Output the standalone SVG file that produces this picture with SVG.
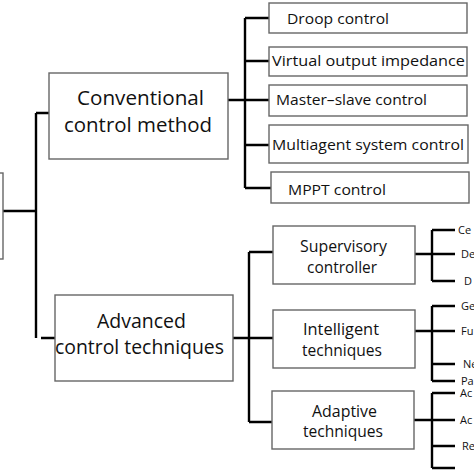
<svg xmlns="http://www.w3.org/2000/svg" width="474" height="474" viewBox="0 0 474 474">
<style>
.box{fill:#fff;stroke:#666;stroke-width:1.4}
.ln{fill:none;stroke:#000;stroke-width:2.4;stroke-linecap:butt}
text{font-family:"Open Sans","Liberation Sans",sans-serif;fill:#111}
.big{font-size:20px}
.mid{font-size:17px}
.sm{font-size:15px}
.xs{font-size:11px}
</style>
<rect width="474" height="474" fill="#fff"/>
<g id="connectors">
<path class="ln" d="M3,211 H36 M36,113 V338 M36,113 H49 M41,338 H55"/>
<path class="ln" d="M228,100 H245 M245,18 V188 M245,18 H269 M245,61 H269 M245,100 H269 M245,145 H269 M245,188 H271"/>
<path class="ln" d="M233,338 H249 M249,252 V422 M249,252 H273 M249,338 H273 M249,422 H272"/>
<path class="ln" d="M415,254 H432 M432,230 V281 M432,230 H455 M432,254 H455 M432,281 H455"/>
<path class="ln" d="M415,331 H432 M432,306 V381 M432,306 H455 M432,331 H455 M432,364 H455 M432,381 H455"/>
<path class="ln" d="M414,420 H432 M432,393 V468 M432,393 H455 M432,420 H455 M432,446 H455 M432,468 H455"/>
</g>
<g id="root"><rect class="box" x="-10" y="173" width="13" height="86"/></g>
<g id="conventional"><rect class="box" x="49" y="73" width="179" height="86"/>
<text class="big" x="77" y="105" textLength="127" lengthAdjust="spacingAndGlyphs">Conventional</text>
<text class="big" x="64" y="132" textLength="148" lengthAdjust="spacingAndGlyphs">control method</text></g>
<g id="advanced"><rect class="box" x="55" y="295" width="178" height="86"/>
<text class="big" x="97" y="328" textLength="89" lengthAdjust="spacingAndGlyphs">Advanced</text>
<text class="big" x="55" y="354" textLength="169" lengthAdjust="spacingAndGlyphs">control techniques</text></g>
<g id="droop"><rect class="box" x="269" y="3" width="198" height="30"/>
<text class="sm" x="287" y="24" textLength="102" lengthAdjust="spacingAndGlyphs">Droop control</text></g>
<g id="virtual"><rect class="box" x="269" y="47" width="198" height="29"/>
<text class="sm" x="272" y="66" textLength="193" lengthAdjust="spacingAndGlyphs">Virtual output  impedance</text></g>
<g id="master"><rect class="box" x="269" y="85" width="198" height="31"/>
<text class="sm" x="276" y="105" textLength="151" lengthAdjust="spacingAndGlyphs">Master–slave control</text></g>
<g id="multiagent"><rect class="box" x="269" y="125" width="199" height="38"/>
<text class="sm" x="272" y="150" textLength="192" lengthAdjust="spacingAndGlyphs">Multiagent system control</text></g>
<g id="mppt"><rect class="box" x="271" y="172" width="198" height="31"/>
<text class="sm" x="288" y="195" textLength="98" lengthAdjust="spacingAndGlyphs">MPPT control</text></g>
<g id="supervisory"><rect class="box" x="273" y="226" width="142" height="58"/>
<text class="mid" x="300" y="252" textLength="87" lengthAdjust="spacingAndGlyphs">Supervisory</text>
<text class="mid" x="307" y="273" textLength="70" lengthAdjust="spacingAndGlyphs">controller</text></g>
<g id="intelligent"><rect class="box" x="273" y="310" width="142" height="58"/>
<text class="mid" x="303" y="335" textLength="76" lengthAdjust="spacingAndGlyphs">Intelligent</text>
<text class="mid" x="302" y="356" textLength="80" lengthAdjust="spacingAndGlyphs">techniques</text></g>
<g id="adaptive"><rect class="box" x="272" y="391" width="142" height="58"/>
<text class="mid" x="312" y="417" textLength="65" lengthAdjust="spacingAndGlyphs">Adaptive</text>
<text class="mid" x="303" y="437" textLength="80" lengthAdjust="spacingAndGlyphs">techniques</text></g>
<g id="leaves">
<text class="xs" x="458" y="234">Ce</text>
<text class="xs" x="461" y="258">De</text>
<text class="xs" x="464" y="285">D</text>
<text class="xs" x="461" y="310">Ge</text>
<text class="xs" x="461" y="335">Fu</text>
<text class="xs" x="463" y="368">Ne</text>
<text class="xs" x="461" y="385">Pa</text>
<text class="xs" x="460" y="397">Ac</text>
<text class="xs" x="460" y="424">Ac</text>
<text class="xs" x="462" y="450">Re</text>
</g>
</svg>
